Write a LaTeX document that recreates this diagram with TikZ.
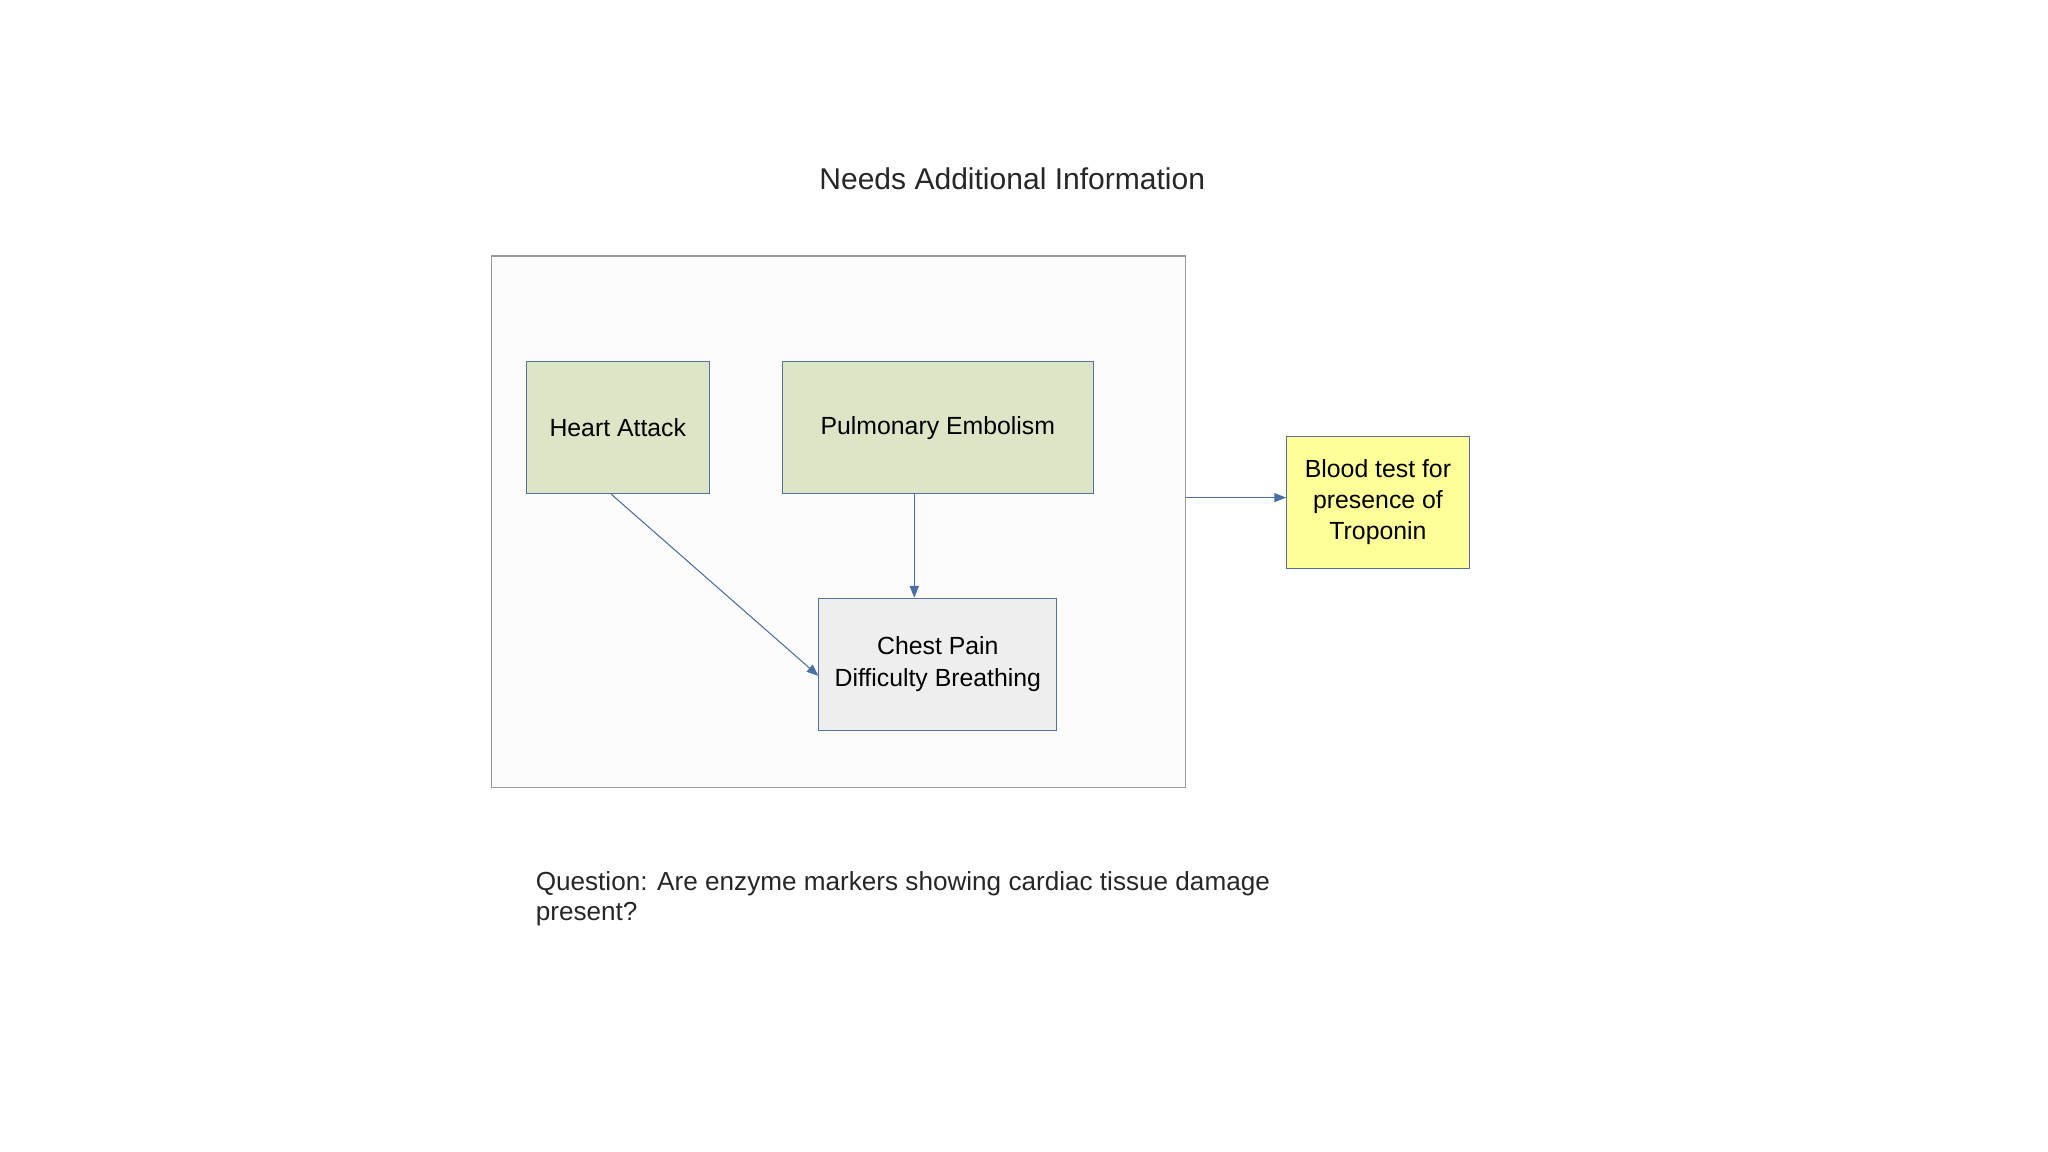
\documentclass[tikz,border=0pt]{standalone}
\usepackage{fontspec}
\setmainfont{Liberation Sans}
\usetikzlibrary{arrows.meta}
\definecolor{edgeb}{HTML}{4A6FA5}
\definecolor{greenf}{HTML}{DCE6C6}
\definecolor{grayf}{HTML}{EEEEEE}
\definecolor{yelf}{HTML}{FFFF99}
\tikzset{
  box/.style={draw=edgeb!80!gray, line width=0.8pt, inner sep=0pt, align=center, font=\fontsize{19}{24}\selectfont},
  conn/.style={draw=edgeb, line width=0.8pt, -{Triangle[length=9pt,width=7pt]}}
}
\begin{document}
\begin{tikzpicture}[x=1pt,y=-1pt]
\useasboundingbox (0,0) rectangle (1568,882);
\node[font=\fontsize{23}{28}\selectfont, text=black!85] (title) at (775,137) {Needs Additional Information};
\draw[draw=gray!80, fill=gray!2, line width=0.8pt] (376,196) rectangle (908,603);
\coordinate (frameR) at (908,381);
\node[box, fill=greenf, minimum width=140pt, minimum height=101pt] (ha) at (473,327.5) {Heart Attack};
\node[box, fill=greenf, minimum width=238pt, minimum height=101pt] (pe) at (718,327.5) {Pulmonary Embolism};
\node[box, fill=grayf, minimum width=182pt, minimum height=101pt] (cp) at (718,508.5) {Chest Pain\\Difficulty Breathing};
\node[box, fill=yelf, minimum width=140pt, minimum height=101pt] (bt) at (1055,384.5) {Blood test for\\presence of\\Troponin};
\draw[conn] ([xshift=-5pt]ha.south) -- ([yshift=-9pt]cp.west);
\draw[conn] ([xshift=-18pt]pe.south) -- ([xshift=-18pt]cp.north);
\draw[conn] (frameR) -- (frameR -| bt.west);
\node[anchor=north west, align=left, font=\fontsize{20}{23}\selectfont, text=black!85, inner sep=0pt] (q) at (410,667) {Question: Are enzyme markers showing cardiac tissue damage\\present?};
\end{tikzpicture}
\end{document}
